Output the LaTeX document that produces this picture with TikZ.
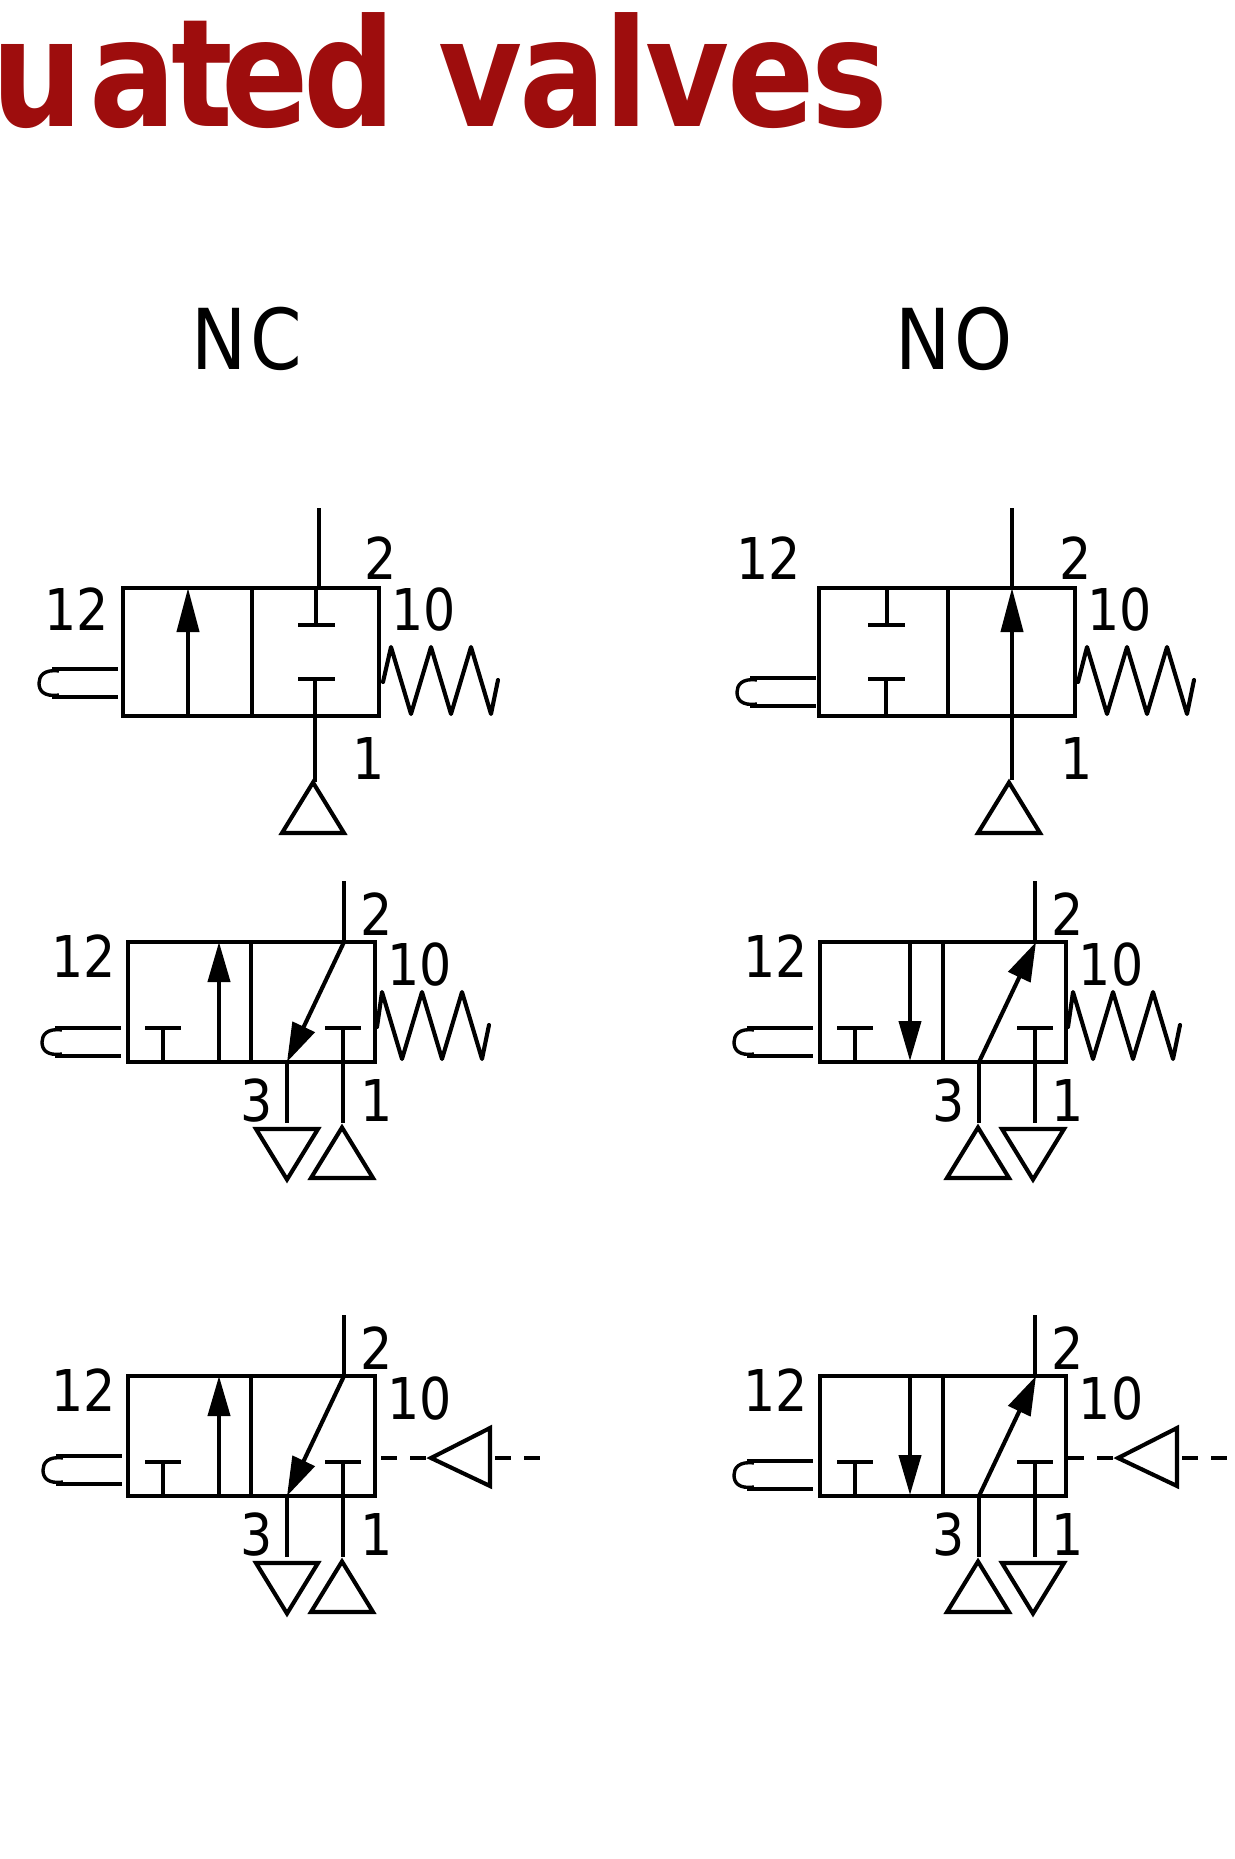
\documentclass[tikz,border=0pt]{standalone}
\usepackage{fontspec}
\setmainfont{DejaVu Sans}[FakeStretch=0.88]
\newfontfamily\titlefont{DejaVu Sans Bold}[FakeStretch=0.86,LetterSpace=-1.8]
\newfontfamily\headfont{DejaVu Sans}[FakeStretch=0.88,LetterSpace=4.5]
\usetikzlibrary{arrows.meta}
\definecolor{titlered}{HTML}{9E0D0D}

% symbols, given in picture pixels
\newcommand{\lever}[3]{
  \coordinate (#1a) at (#2,#3);
  \coordinate (#1b) at (#2+66,#3);
  \coordinate (#1c) at (#2,#3+28);
  \coordinate (#1d) at (#2+66,#3+28);
  \draw (#1a) -- (#1b);
  \draw (#1c) -- (#1d);
  \draw [thin line] (#2+7,#3+2) .. controls (#2-8,#3) and (#2-13,#3+7) .. (#2-13,#3+14) .. controls (#2-13,#3+22) and (#2-8,#3+28) .. (#2+7,#3+26);
}
\newcommand{\spring}[3]{
  \draw [coil] (#1,#2) -- ++(#3,-35) -- ++(20,67) -- ++(20,-67) -- ++(20,67) -- ++(20,-67) -- ++(20,67) -- ++(7,-34);
}
\newcommand{\portup}[2]{\draw (#1,#2-2.5) -- ++(-31,50.5) -- ++(62,0) -- cycle;}
\newcommand{\portdown}[2]{\draw (#1,#2+2.5) -- ++(-31,-50.5) -- ++(62,0) -- cycle;}
\newcommand{\pilot}[2]{
  \coordinate (#1a) at (#2,1458);
  \coordinate (#1b) at (#2+46,1458);
  \coordinate (#1c) at (#2+114,1458);
  \coordinate (#1d) at (#2+160,1458);
  \draw [pilot line] (#1a) -- (#1b);
  \draw [pilot line] (#1c) -- (#1d);
  \draw (#2+50,1458) -- (#2+109,1428) -- (#2+109,1486) -- cycle;
}
\newcommand{\threewaync}[1]{
  \node (#1box) at (251.5,1002) [valvebox,minimum width=247pt,minimum height=120pt] {};
  \coordinate (#1top) at (344,881);
  \coordinate (#1in) at (344,942);
  \coordinate (#1out) at (287,1062);
  \coordinate (#1exh) at (287,1123);
  \coordinate (#1sup) at (343,1123);
  \draw (251,942) -- (251,1062);
  \draw [flow] (219,1062) -- (219,942);
  \draw (145,1028) -- (181,1028);
  \draw (163,1028) -- (163,1062);
  \draw (325,1028) -- (361,1028);
  \draw (343,1028) -- (#1sup);
  \draw (#1top) -- (#1in);
  \draw [slantflow] (#1in) -- (#1out);
  \draw (#1out) -- (#1exh);
  \portdown{287}{1177}
  \portup{342}{1130}
  \node (#1two) at (377,935) [portlabel] {2};
  \node (#1ten) at (420,985) [portlabel] {10};
  \node (#1twelve) at (83.5,977) [portlabel] {12};
  \node (#1three) at (257,1121) [portlabel] {3};
  \node (#1one) at (377,1121) [portlabel] {1};
}
\newcommand{\threewayno}[1]{
  \node (#1box) at (943,1002) [valvebox,minimum width=246pt,minimum height=120pt] {};
  \coordinate (#1top) at (1035,881);
  \coordinate (#1in) at (1036,942);
  \coordinate (#1out) at (979,1062);
  \coordinate (#1exh) at (979,1123);
  \coordinate (#1sup) at (1035,1123);
  \draw (943,942) -- (943,1062);
  \draw [flow] (910,942) -- (910,1061);
  \draw (837,1028) -- (873,1028);
  \draw (855,1028) -- (855,1062);
  \draw (1017,1028) -- (1053,1028);
  \draw (1035,1028) -- (#1sup);
  \draw (#1top) -- (1035,942);
  \draw [slantflow] (#1out) -- (#1in);
  \draw (#1out) -- (#1exh);
  \portup{978}{1130}
  \portdown{1033}{1177}
  \node (#1two) at (1067.5,935) [portlabel] {2};
  \node (#1ten) at (1111,985) [portlabel] {10};
  \node (#1twelve) at (775.5,977) [portlabel] {12};
  \node (#1three) at (949,1121) [portlabel] {3};
  \node (#1one) at (1068,1121) [portlabel] {1};
}

\begin{document}
\begin{tikzpicture}
  [x=1pt,y=-1pt,line width=4.1pt,
   valvebox/.style={draw,rectangle,inner sep=0pt,outer sep=0pt},
   portlabel/.style={anchor=base,inner sep=0pt,font=\fontsize{57.6}{60}\selectfont},
   headlabel/.style={anchor=base,inner sep=0pt,font=\headfont\fontsize{84}{90}\selectfont},
   flow/.style={-{Triangle[length=#1,width=22pt]}},
   flow/.default=40pt,
   slantflow/.style={-{Triangle[length=39pt,width=24pt]}},
   thin line/.style={line width=3.4pt},
   coil/.style={line join=round,line cap=round},
   pilot line/.style={dash pattern=on 16pt off 13pt}]
  \useasboundingbox (0,0) rectangle (1234,1859);
  \node (title) at (890.5,127) [anchor=base east,inner sep=0pt,text=titlered,font=\titlefont\fontsize{150}{160}\selectfont] {tu\kern6pt a\kern-5pt t\kern-12pt e\kern-5pt d valves};
  \node (nchead) at (247,369) [headlabel] {NC};
  \node (nohead) at (954,369) [headlabel] {NO};

  % first row
  \node (ncabox) at (251,652) [valvebox,minimum width=256pt,minimum height=128pt] {};
  \coordinate (ncatop) at (319,508);
  \coordinate (ncain) at (319,588);
  \coordinate (ncasup) at (315,782);
  \draw (252,588) -- (252,716);
  \draw [flow=44pt] (188,716) -- (188,588);
  \draw (ncatop) -- (ncain);
  \draw (316,588) -- (316,625);
  \draw (298,625) -- (335,625);
  \draw (298,679) -- (335,679);
  \draw (315,679) -- (ncasup);
  \portup{313}{785}
  \lever{ncal}{52}{669}
  \spring{383}{682}{8}
  \node (ncatwo) at (381,579) [portlabel] {2};
  \node (ncaten) at (423.5,630) [portlabel] {10};
  \node (ncatwelve) at (76.5,630) [portlabel] {12};
  \node (ncaone) at (368.5,779) [portlabel] {1};

  \node (noabox) at (947,652) [valvebox,minimum width=256pt,minimum height=128pt] {};
  \coordinate (noatop) at (1012,508);
  \coordinate (noain) at (1012,780);
  \draw (948,588) -- (948,716);
  \draw (noatop) -- (1012,588);
  \draw [flow=44pt] (noain) -- (1012,588);
  \draw (887,588) -- (887,625);
  \draw (868,625) -- (905,625);
  \draw (868,679) -- (905,679);
  \draw (886,679) -- (886,716);
  \portup{1009}{785}
  \lever{noal}{750}{678}
  \spring{1078}{682}{9}
  \node (noatwo) at (1075.5,579) [portlabel] {2};
  \node (noaten) at (1119.5,630) [portlabel] {10};
  \node (noatwelve) at (768.5,579) [portlabel] {12};
  \node (noaone) at (1076.5,779) [portlabel] {1};

  % second row
  \threewaync{ncb}
  \lever{ncbl}{55}{1028}
  \spring{377}{1027}{5}
  \threewayno{nob}
  \lever{nobl}{747}{1028}
  \spring{1068}{1027}{5}

  % third row
  \begin{scope}[shift={(0,434)}]
    \threewaync{ncc}
    \threewayno{noc}
  \end{scope}
  \lever{nccl}{56}{1456}
  \pilot{nccp}{381}
  \lever{nocl}{747}{1461}
  \pilot{nocp}{1068}
\end{tikzpicture}
\end{document}
